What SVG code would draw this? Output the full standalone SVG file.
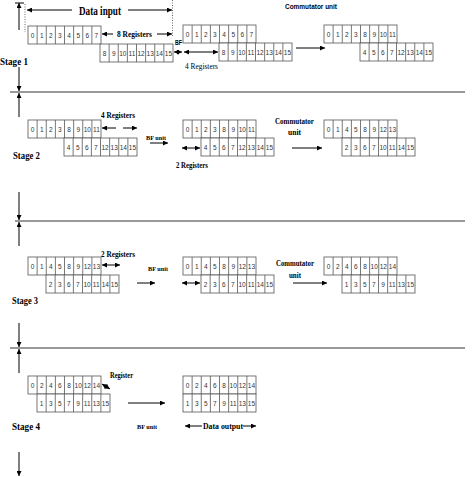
<svg xmlns="http://www.w3.org/2000/svg" xmlns:xlink="http://www.w3.org/1999/xlink" width="474" height="477" viewBox="0 0 474 477">
<style>
.cell{fill:#fff;stroke:#555;stroke-width:0.8}
.n{font-family:"Liberation Sans",Arial,sans-serif;font-size:6.5px;fill:#333;text-anchor:middle}
.lbl{font-family:"Liberation Serif","Times New Roman",serif;font-weight:bold;fill:#000}
.reg{font-family:"Liberation Serif","Times New Roman",serif;fill:#000}
.cu{font-family:"Liberation Sans",Arial,sans-serif;font-weight:bold;fill:#000}
.ln{stroke:#000;stroke-width:1;fill:none}
.ar{stroke:#000;stroke-width:1;fill:none;marker-end:url(#ah)}
.ar2{stroke:#000;stroke-width:1;fill:none;marker-start:url(#ah);marker-end:url(#ah)}
.sep{stroke:#999;stroke-width:2}
.dot{stroke:#666;stroke-width:1;stroke-dasharray:1 1.5;fill:none}
</style>
<defs>
<marker id="ah" viewBox="0 0 10 10" refX="10" refY="5" markerWidth="7" markerHeight="5" markerUnits="userSpaceOnUse" orient="auto-start-reverse"><path d="M0,0 L10,5 L0,10 z" fill="#000"/></marker>
<g id="row"><rect class="cell" x="0" y="0" width="73" height="18"/><path d="M9.125 0v18M18.25 0v18M27.375 0v18M36.5 0v18M45.625 0v18M54.75 0v18M63.875 0v18" stroke="#555" stroke-width="0.8"/></g>
</defs>
<rect x="0" y="0" width="474" height="477" fill="#fff"/>

<g id="separators">
<line class="sep" x1="10" y1="92" x2="465" y2="92"/>
<line class="sep" x1="15" y1="221" x2="465" y2="221"/>
<line class="sep" x1="10" y1="348" x2="465" y2="348"/>
</g>

<g id="connectors">
<line class="ln" x1="15" y1="3" x2="24" y2="3"/>
<line class="ar" x1="19" y1="30" x2="19" y2="3"/>
<line class="ar" x1="19" y1="67" x2="19" y2="91"/>
<line class="ar" x1="19" y1="117" x2="19" y2="93"/>
<line class="ar" x1="19" y1="192" x2="19" y2="220"/>
<line class="ar" x1="19" y1="246" x2="19" y2="222"/>
<line class="ar" x1="19" y1="323" x2="19" y2="347"/>
<line class="ar" x1="19" y1="373" x2="19" y2="349"/>
<line class="ar" x1="19" y1="452" x2="19" y2="476"/>
<line class="dot" x1="25" y1="4" x2="25" y2="32"/>
<line class="dot" x1="172.5" y1="0" x2="172.5" y2="36"/>
<line class="ar" x1="72" y1="10" x2="27" y2="10"/>
<line class="ar" x1="128" y1="10" x2="172" y2="10"/>
<line class="ar" x1="113" y1="34" x2="102" y2="34"/>
<line class="ar" x1="157" y1="34" x2="172" y2="34"/>
<line class="ar2" x1="174" y1="52" x2="182" y2="52"/>
<line class="ar2" x1="184" y1="52" x2="218" y2="52"/>
<line class="ar" x1="296" y1="48" x2="325" y2="48"/>
<line class="ar" x1="116" y1="128" x2="102" y2="128"/>
<line class="ar" x1="123" y1="128" x2="137" y2="128"/>
<line class="ar" x1="150" y1="143" x2="168" y2="143"/>
<line class="ar2" x1="182" y1="148" x2="200" y2="148"/>
<line class="ar" x1="292" y1="148" x2="322" y2="148"/>
<line class="ar2" x1="102" y1="265" x2="120" y2="265"/>
<line class="ar" x1="137" y1="283" x2="155" y2="283"/>
<line class="ar2" x1="182" y1="283" x2="200" y2="283"/>
<line class="ar" x1="293" y1="283" x2="327" y2="283"/>
<line class="ar2" x1="102" y1="384" x2="110" y2="389"/>
<line class="ar" x1="128" y1="403" x2="165" y2="403"/>
<line class="ar" x1="202" y1="426" x2="185" y2="426"/>
<line class="ar" x1="243" y1="426" x2="256" y2="426"/>
</g>

<g id="labels">
<text class="lbl" x="0" y="65" font-size="11" textLength="28" lengthAdjust="spacingAndGlyphs">Stage 1</text>
<text class="lbl" x="13" y="159" font-size="11" textLength="27" lengthAdjust="spacingAndGlyphs">Stage 2</text>
<text class="lbl" x="12" y="304" font-size="11" textLength="26" lengthAdjust="spacingAndGlyphs">Stage 3</text>
<text class="lbl" x="12" y="430" font-size="11" textLength="28" lengthAdjust="spacingAndGlyphs">Stage 4</text>
<text class="lbl" x="79" y="15" font-size="13" textLength="42" lengthAdjust="spacingAndGlyphs">Data input</text>
<text class="lbl" x="117" y="36.5" font-size="9" textLength="35" lengthAdjust="spacingAndGlyphs">8 Registers</text>
<text class="cu" x="175" y="45" font-size="7.5" textLength="7" lengthAdjust="spacingAndGlyphs">BF</text>
<text class="reg" x="185" y="69" font-size="9" textLength="33" lengthAdjust="spacingAndGlyphs">4 Registers</text>
<text class="cu" x="285" y="9" font-size="7.5" textLength="52" lengthAdjust="spacingAndGlyphs">Commutator unit</text>
<text class="lbl" x="101" y="118" font-size="9" textLength="34" lengthAdjust="spacingAndGlyphs">4 Registers</text>
<text class="lbl" x="146" y="139.5" font-size="7" textLength="20" lengthAdjust="spacingAndGlyphs">BF unit</text>
<text class="lbl" x="176" y="168" font-size="9" textLength="32" lengthAdjust="spacingAndGlyphs">2 Registers</text>
<text class="lbl" x="275" y="124" font-size="9" textLength="39" lengthAdjust="spacingAndGlyphs">Commutator</text>
<text class="lbl" x="288" y="135" font-size="9" textLength="13" lengthAdjust="spacingAndGlyphs">unit</text>
<text class="lbl" x="101" y="257" font-size="9" textLength="34" lengthAdjust="spacingAndGlyphs">2 Registers</text>
<text class="lbl" x="148" y="270.5" font-size="7" textLength="20" lengthAdjust="spacingAndGlyphs">BF unit</text>
<text class="lbl" x="276" y="266" font-size="9" textLength="38" lengthAdjust="spacingAndGlyphs">Commutator</text>
<text class="lbl" x="289" y="278" font-size="9" textLength="12" lengthAdjust="spacingAndGlyphs">unit</text>
<text class="lbl" x="110" y="378" font-size="9" textLength="23" lengthAdjust="spacingAndGlyphs">Register</text>
<text class="lbl" x="137" y="428.5" font-size="7" textLength="20" lengthAdjust="spacingAndGlyphs">BF unit</text>
<text class="lbl" x="203" y="429" font-size="9" textLength="40" lengthAdjust="spacingAndGlyphs">Data output</text>
</g>

<g id="s1-b1">
<g transform="translate(28,26)"><use xlink:href="#row"/><text class="n" x="4.6" y="11.5">0</text><text class="n" x="13.7" y="11.5">1</text><text class="n" x="22.8" y="11.5">2</text><text class="n" x="31.9" y="11.5">3</text><text class="n" x="41.1" y="11.5">4</text><text class="n" x="50.2" y="11.5">5</text><text class="n" x="59.3" y="11.5">6</text><text class="n" x="68.4" y="11.5">7</text></g>
<g transform="translate(100,44)"><use xlink:href="#row"/><text class="n" x="4.6" y="11.5">8</text><text class="n" x="13.7" y="11.5">9</text><text class="n" x="22.8" y="11.5">10</text><text class="n" x="31.9" y="11.5">11</text><text class="n" x="41.1" y="11.5">12</text><text class="n" x="50.2" y="11.5">13</text><text class="n" x="59.3" y="11.5">14</text><text class="n" x="68.4" y="11.5">15</text></g>
</g>
<g id="s1-b2">
<g transform="translate(183,25)"><use xlink:href="#row"/><text class="n" x="4.6" y="11.5">0</text><text class="n" x="13.7" y="11.5">1</text><text class="n" x="22.8" y="11.5">2</text><text class="n" x="31.9" y="11.5">3</text><text class="n" x="41.1" y="11.5">4</text><text class="n" x="50.2" y="11.5">5</text><text class="n" x="59.3" y="11.5">6</text><text class="n" x="68.4" y="11.5">7</text></g>
<g transform="translate(219,43)"><use xlink:href="#row"/><text class="n" x="4.6" y="11.5">8</text><text class="n" x="13.7" y="11.5">9</text><text class="n" x="22.8" y="11.5">10</text><text class="n" x="31.9" y="11.5">11</text><text class="n" x="41.1" y="11.5">12</text><text class="n" x="50.2" y="11.5">13</text><text class="n" x="59.3" y="11.5">14</text><text class="n" x="68.4" y="11.5">15</text></g>
</g>
<g id="s1-b3">
<g transform="translate(324,25)"><use xlink:href="#row"/><text class="n" x="4.6" y="11.5">0</text><text class="n" x="13.7" y="11.5">1</text><text class="n" x="22.8" y="11.5">2</text><text class="n" x="31.9" y="11.5">3</text><text class="n" x="41.1" y="11.5">8</text><text class="n" x="50.2" y="11.5">9</text><text class="n" x="59.3" y="11.5">10</text><text class="n" x="68.4" y="11.5">11</text></g>
<g transform="translate(360,43)"><use xlink:href="#row"/><text class="n" x="4.6" y="11.5">4</text><text class="n" x="13.7" y="11.5">5</text><text class="n" x="22.8" y="11.5">6</text><text class="n" x="31.9" y="11.5">7</text><text class="n" x="41.1" y="11.5">12</text><text class="n" x="50.2" y="11.5">13</text><text class="n" x="59.3" y="11.5">14</text><text class="n" x="68.4" y="11.5">15</text></g>
</g>

<g id="s2-b1">
<g transform="translate(28,120)"><use xlink:href="#row"/><text class="n" x="4.6" y="11.5">0</text><text class="n" x="13.7" y="11.5">1</text><text class="n" x="22.8" y="11.5">2</text><text class="n" x="31.9" y="11.5">3</text><text class="n" x="41.1" y="11.5">8</text><text class="n" x="50.2" y="11.5">9</text><text class="n" x="59.3" y="11.5">10</text><text class="n" x="68.4" y="11.5">11</text></g>
<g transform="translate(64,138)"><use xlink:href="#row"/><text class="n" x="4.6" y="11.5">4</text><text class="n" x="13.7" y="11.5">5</text><text class="n" x="22.8" y="11.5">6</text><text class="n" x="31.9" y="11.5">7</text><text class="n" x="41.1" y="11.5">12</text><text class="n" x="50.2" y="11.5">13</text><text class="n" x="59.3" y="11.5">14</text><text class="n" x="68.4" y="11.5">15</text></g>
</g>
<g id="s2-b2">
<g transform="translate(183,120)"><use xlink:href="#row"/><text class="n" x="4.6" y="11.5">0</text><text class="n" x="13.7" y="11.5">1</text><text class="n" x="22.8" y="11.5">2</text><text class="n" x="31.9" y="11.5">3</text><text class="n" x="41.1" y="11.5">8</text><text class="n" x="50.2" y="11.5">9</text><text class="n" x="59.3" y="11.5">10</text><text class="n" x="68.4" y="11.5">11</text></g>
<g transform="translate(201,138)"><use xlink:href="#row"/><text class="n" x="4.6" y="11.5">4</text><text class="n" x="13.7" y="11.5">5</text><text class="n" x="22.8" y="11.5">6</text><text class="n" x="31.9" y="11.5">7</text><text class="n" x="41.1" y="11.5">12</text><text class="n" x="50.2" y="11.5">13</text><text class="n" x="59.3" y="11.5">14</text><text class="n" x="68.4" y="11.5">15</text></g>
</g>
<g id="s2-b3">
<g transform="translate(324,120)"><use xlink:href="#row"/><text class="n" x="4.6" y="11.5">0</text><text class="n" x="13.7" y="11.5">1</text><text class="n" x="22.8" y="11.5">4</text><text class="n" x="31.9" y="11.5">5</text><text class="n" x="41.1" y="11.5">8</text><text class="n" x="50.2" y="11.5">9</text><text class="n" x="59.3" y="11.5">12</text><text class="n" x="68.4" y="11.5">13</text></g>
<g transform="translate(342,138)"><use xlink:href="#row"/><text class="n" x="4.6" y="11.5">2</text><text class="n" x="13.7" y="11.5">3</text><text class="n" x="22.8" y="11.5">6</text><text class="n" x="31.9" y="11.5">7</text><text class="n" x="41.1" y="11.5">10</text><text class="n" x="50.2" y="11.5">11</text><text class="n" x="59.3" y="11.5">14</text><text class="n" x="68.4" y="11.5">15</text></g>
</g>

<g id="s3-b1">
<g transform="translate(28,257)"><use xlink:href="#row"/><text class="n" x="4.6" y="11.5">0</text><text class="n" x="13.7" y="11.5">1</text><text class="n" x="22.8" y="11.5">4</text><text class="n" x="31.9" y="11.5">5</text><text class="n" x="41.1" y="11.5">8</text><text class="n" x="50.2" y="11.5">9</text><text class="n" x="59.3" y="11.5">12</text><text class="n" x="68.4" y="11.5">13</text></g>
<g transform="translate(46,275)"><use xlink:href="#row"/><text class="n" x="4.6" y="11.5">2</text><text class="n" x="13.7" y="11.5">3</text><text class="n" x="22.8" y="11.5">6</text><text class="n" x="31.9" y="11.5">7</text><text class="n" x="41.1" y="11.5">10</text><text class="n" x="50.2" y="11.5">11</text><text class="n" x="59.3" y="11.5">14</text><text class="n" x="68.4" y="11.5">15</text></g>
</g>
<g id="s3-b2">
<g transform="translate(183,257)"><use xlink:href="#row"/><text class="n" x="4.6" y="11.5">0</text><text class="n" x="13.7" y="11.5">1</text><text class="n" x="22.8" y="11.5">4</text><text class="n" x="31.9" y="11.5">5</text><text class="n" x="41.1" y="11.5">8</text><text class="n" x="50.2" y="11.5">9</text><text class="n" x="59.3" y="11.5">12</text><text class="n" x="68.4" y="11.5">13</text></g>
<g transform="translate(201,275)"><use xlink:href="#row"/><text class="n" x="4.6" y="11.5">2</text><text class="n" x="13.7" y="11.5">3</text><text class="n" x="22.8" y="11.5">6</text><text class="n" x="31.9" y="11.5">7</text><text class="n" x="41.1" y="11.5">10</text><text class="n" x="50.2" y="11.5">11</text><text class="n" x="59.3" y="11.5">14</text><text class="n" x="68.4" y="11.5">15</text></g>
</g>
<g id="s3-b3">
<g transform="translate(324,257)"><use xlink:href="#row"/><text class="n" x="4.6" y="11.5">0</text><text class="n" x="13.7" y="11.5">2</text><text class="n" x="22.8" y="11.5">4</text><text class="n" x="31.9" y="11.5">6</text><text class="n" x="41.1" y="11.5">8</text><text class="n" x="50.2" y="11.5">10</text><text class="n" x="59.3" y="11.5">12</text><text class="n" x="68.4" y="11.5">14</text></g>
<g transform="translate(342,275)"><use xlink:href="#row"/><text class="n" x="4.6" y="11.5">1</text><text class="n" x="13.7" y="11.5">3</text><text class="n" x="22.8" y="11.5">5</text><text class="n" x="31.9" y="11.5">7</text><text class="n" x="41.1" y="11.5">9</text><text class="n" x="50.2" y="11.5">11</text><text class="n" x="59.3" y="11.5">13</text><text class="n" x="68.4" y="11.5">15</text></g>
</g>

<g id="s4-b1">
<g transform="translate(28,376)"><use xlink:href="#row"/><text class="n" x="4.6" y="11.5">0</text><text class="n" x="13.7" y="11.5">2</text><text class="n" x="22.8" y="11.5">4</text><text class="n" x="31.9" y="11.5">6</text><text class="n" x="41.1" y="11.5">8</text><text class="n" x="50.2" y="11.5">10</text><text class="n" x="59.3" y="11.5">12</text><text class="n" x="68.4" y="11.5">14</text></g>
<g transform="translate(37,394)"><use xlink:href="#row"/><text class="n" x="4.6" y="11.5">1</text><text class="n" x="13.7" y="11.5">3</text><text class="n" x="22.8" y="11.5">5</text><text class="n" x="31.9" y="11.5">7</text><text class="n" x="41.1" y="11.5">9</text><text class="n" x="50.2" y="11.5">11</text><text class="n" x="59.3" y="11.5">13</text><text class="n" x="68.4" y="11.5">15</text></g>
</g>
<g id="s4-b2">
<g transform="translate(183,376)"><use xlink:href="#row"/><text class="n" x="4.6" y="11.5">0</text><text class="n" x="13.7" y="11.5">2</text><text class="n" x="22.8" y="11.5">4</text><text class="n" x="31.9" y="11.5">6</text><text class="n" x="41.1" y="11.5">8</text><text class="n" x="50.2" y="11.5">10</text><text class="n" x="59.3" y="11.5">12</text><text class="n" x="68.4" y="11.5">14</text></g>
<g transform="translate(183,394)"><use xlink:href="#row"/><text class="n" x="4.6" y="11.5">1</text><text class="n" x="13.7" y="11.5">3</text><text class="n" x="22.8" y="11.5">5</text><text class="n" x="31.9" y="11.5">7</text><text class="n" x="41.1" y="11.5">9</text><text class="n" x="50.2" y="11.5">11</text><text class="n" x="59.3" y="11.5">13</text><text class="n" x="68.4" y="11.5">15</text></g>
</g>
</svg>
